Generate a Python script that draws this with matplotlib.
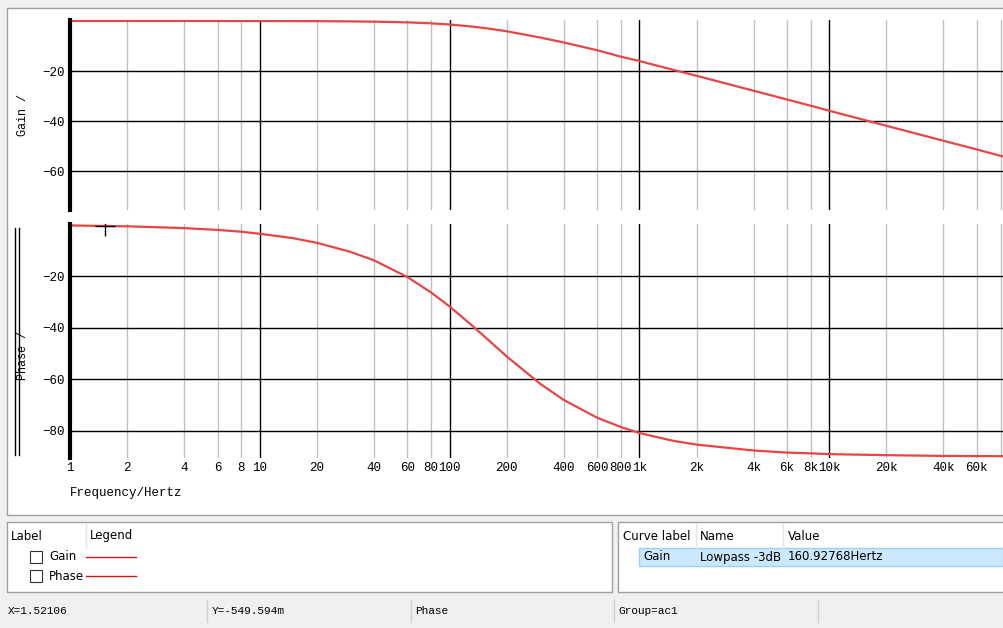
import numpy as np
import matplotlib.pyplot as plt
from matplotlib.patches import Rectangle
from matplotlib.lines import Line2D

freq = [1, 2, 4, 6, 8, 10, 15, 20, 30, 40, 60, 80, 100, 130, 160, 200, 300, 400, 600, 800,
        1000, 1500, 2000, 4000, 6000, 8000, 10000, 20000, 40000, 60000, 82400]
gain_db = [0.0, 0.0, -0.003, -0.006, -0.01, -0.02, -0.04, -0.07, -0.15, -0.26, -0.55, -0.93,
           -1.4, -2.2, -3.0, -4.1, -6.6, -8.6, -11.7, -14.3, -16.0, -19.5, -21.9, -27.9,
           -31.4, -33.9, -35.9, -41.9, -47.9, -51.4, -54.2]
phase_deg = [-0.36, -0.7, -1.4, -2.1, -2.8, -3.6, -5.3, -7.1, -10.6, -13.9, -20.4, -26.4,
             -31.8, -38.9, -44.8, -51.2, -61.8, -68.1, -75.0, -78.6, -80.9, -83.9, -85.4,
             -87.7, -88.5, -88.8, -89.1, -89.5, -89.8, -89.85, -89.9]
tick_vals = [1, 2, 4, 6, 8, 10, 20, 40, 60, 80, 100, 200, 400, 600, 800,
             1000, 2000, 4000, 6000, 8000, 10000, 20000, 40000, 60000]
tick_text = ['1', '2', '4', '6', '8', '10', '20', '40', '60', '80', '100', '200', '400', '600',
             '800', '1k', '2k', '4k', '6k', '8k', '10k', '20k', '40k', '60k']

W, H = 1004, 628
def fx(x): return x / W
def fy(y): return 1 - y / H

mono = 'Liberation Mono'
ui = 'DejaVu Sans'
curve = '#e84545'

fig = plt.figure(figsize=(W / 100, H / 100), dpi=100, facecolor='#f0f0f0')

def panel(x0, y0, x1, y1, **kw):
    fig.patches.append(Rectangle((fx(x0), fy(y1)), fx(x1 - x0), (y1 - y0) / H,
                                 transform=fig.transFigure, zorder=-5, **kw))

# panel frames
panel(7, 8, 1004, 515, facecolor='white', edgecolor='#a0a0a0', lw=1)
panel(7, 522, 612, 592, facecolor='white', edgecolor='#a0a0a0', lw=1)
panel(618, 522, 1004, 592, facecolor='white', edgecolor='#a0a0a0', lw=1)

ax1 = fig.add_axes([fx(70), fy(210), fx(933), 190 / H])
ax2 = fig.add_axes([fx(70), fy(458), fx(933), 234 / H])

for ax in (ax1, ax2):
    ax.set_zorder(5)
    ax.patch.set_visible(False)
    ax.set_xscale('log')
    ax.set_xlim(1, 82400)
    for s in ('top', 'right', 'bottom'):
        ax.spines[s].set_visible(False)
    ax.spines['left'].set_linewidth(3)
    ax.tick_params(length=0, labelsize=9)
    for d in [1, 10, 100, 1000, 10000]:
        for m in [2, 4, 6, 8]:
            ax.axvline(d * m, color='#c0c0c0', lw=1, zorder=0)
        if d > 1:
            ax.axvline(d, color='black', lw=1, zorder=0)
    ax.minorticks_off()

ax1.plot(freq, gain_db, color=curve, lw=1.6)
ax1.set_ylim(-75.6, 0.4)
ax1.set_yticks([-20, -40, -60])
ax1.set_yticklabels(['−20', '−40', '−60'], family=mono)
for v in [-20, -40, -60]:
    ax1.axhline(v, color='black', lw=1, zorder=0)
ax1.set_xticks([])

ax2.plot(freq, phase_deg, color=curve, lw=1.6)
ax2.plot([1.52106], [-0.55], marker='+', ms=14, color='black', mew=1)
ax2.set_ylim(-90.6, 0.2)
ax2.set_yticks([-20, -40, -60, -80])
ax2.set_yticklabels(['−20', '−40', '−60', '−80'], family=mono)
for v in [-20, -40, -60, -80]:
    ax2.axhline(v, color='black', lw=1, zorder=0)
ax2.set_xticks(tick_vals)
ax2.set_xticklabels(tick_text, family=mono, fontsize=9)
ax2.tick_params(axis='x', pad=3)

fig.text(fx(23), fy(115), 'Gain /', rotation=90, ha='center', va='center', family=mono, fontsize=8.5)
fig.text(fx(23), fy(355), 'Phase /', rotation=90, ha='center', va='center', family=mono, fontsize=8.5)
for x in (15, 19):
    fig.add_artist(Line2D([fx(x), fx(x)], [fy(228), fy(455)], color='black', lw=1))
fig.text(fx(70), fy(493), 'Frequency/Hertz', ha='left', va='center', family=mono, fontsize=9)

# legend panel
fig.text(fx(11), fy(536), 'Label', va='center', family=ui, fontsize=8.5)
fig.text(fx(90), fy(536), 'Legend', va='center', family=ui, fontsize=8.5)
fig.add_artist(Line2D([fx(86), fx(86)], [fy(524), fy(548)], color='#e5e5e5', lw=1))
for y, name in [(557, 'Gain'), (576, 'Phase')]:
    panel(30, y - 6, 42, y + 6, facecolor='white', edgecolor='#333333', lw=0.8)
    fig.text(fx(49), fy(y), name, va='center', family=ui, fontsize=8.5)
    fig.add_artist(Line2D([fx(86), fx(136)], [fy(y), fy(y)], color='#c81e1e', lw=1))

# measurement panel
panel(639, 548, 1003, 566, facecolor='#cce8ff', edgecolor='#99d1ff', lw=1)
for x, t in [(623, 'Curve label'), (700, 'Name'), (788, 'Value')]:
    fig.text(fx(x), fy(536), t, va='center', family=ui, fontsize=8.5)
for x in (696, 783):
    fig.add_artist(Line2D([fx(x), fx(x)], [fy(524), fy(548)], color='#e5e5e5', lw=1))
for x, t in [(643, 'Gain'), (700, 'Lowpass -3dB'), (788, '160.92768Hertz')]:
    fig.text(fx(x), fy(557), t, va='center', family=ui, fontsize=8.5)

# status bar
for x, t in [(8, 'X=1.52106'), (212, 'Y=-549.594m'), (415, 'Phase'), (618, 'Group=ac1')]:
    fig.text(fx(x), fy(611), t, va='center', family=mono, fontsize=8)
for x in (207, 411, 614, 818):
    fig.add_artist(Line2D([fx(x), fx(x)], [fy(600), fy(622)], color='#d0d0d0', lw=1))

fig.savefig('out.png', dpi=100, facecolor=fig.get_facecolor())
